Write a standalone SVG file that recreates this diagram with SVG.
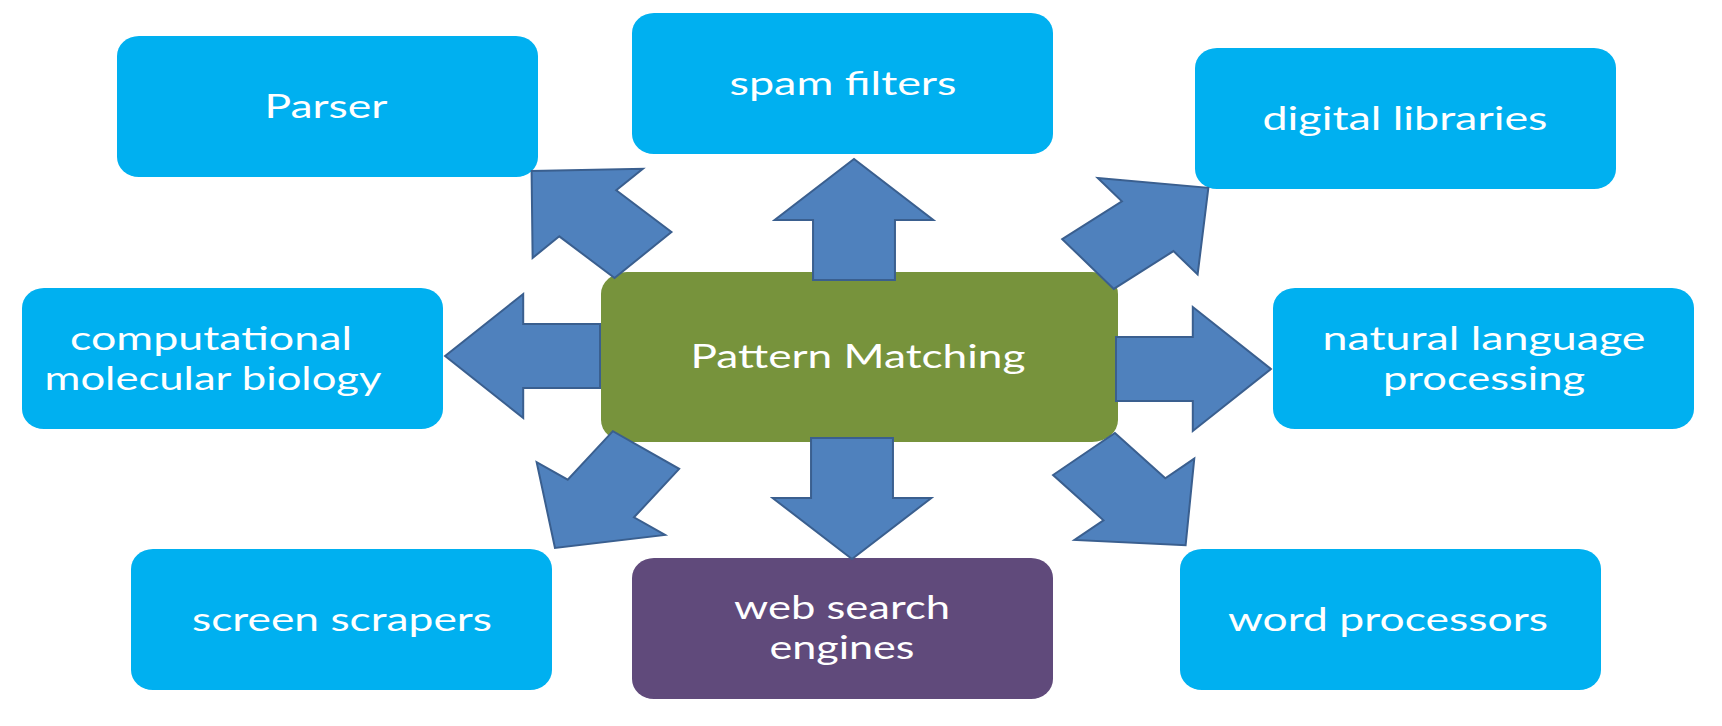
<svg xmlns="http://www.w3.org/2000/svg" xmlns:xlink="http://www.w3.org/1999/xlink" width="1722" height="726" viewBox="0 0 1722 726">
  <style>
    .box { fill: #00B0F0; }
    .core { fill: #77933C; }
    .hl { fill: #604A7B; }
    .lbl { font-family: Lato, "Open Sans", "Liberation Sans", sans-serif; font-size: 33px; fill: #FFFFFF; text-anchor: middle; }
    .arr { fill: #4F81BD; stroke: #3A5F8F; stroke-width: 2; stroke-linejoin: miter; }
  </style>
  <defs>
    <polygon id="arrow" class="arr" vector-effect="non-scaling-stroke" points="0,-32 60,-32 60,-62 121,0 60,62 60,32 0,32"/>
  </defs>
  <rect width="1722" height="726" fill="#FFFFFF"/>

  <g id="node-parser">
    <rect class="box" x="117" y="36" width="421" height="141" rx="22" ry="20"/>
    <text class="lbl" x="326" y="118" textLength="123" lengthAdjust="spacingAndGlyphs">Parser</text>
  </g>
  <g id="node-spam">
    <rect class="box" x="632" y="13" width="421" height="141" rx="22" ry="20"/>
    <text class="lbl" x="843" y="95" textLength="227" lengthAdjust="spacingAndGlyphs">spam filters</text>
  </g>
  <g id="node-digital">
    <rect class="box" x="1195" y="48" width="421" height="141" rx="22" ry="20"/>
    <text class="lbl" x="1405" y="130" textLength="285" lengthAdjust="spacingAndGlyphs">digital libraries</text>
  </g>
  <g id="node-compbio">
    <rect class="box" x="22" y="288" width="421" height="141" rx="22" ry="20"/>
    <text class="lbl" x="211" y="350" textLength="282" lengthAdjust="spacingAndGlyphs">computational</text>
    <text class="lbl" x="213" y="390" textLength="337" lengthAdjust="spacingAndGlyphs">molecular biology</text>
  </g>
  <g id="node-nlp">
    <rect class="box" x="1273" y="288" width="421" height="141" rx="22" ry="20"/>
    <text class="lbl" x="1484" y="350" textLength="323" lengthAdjust="spacingAndGlyphs">natural language</text>
    <text class="lbl" x="1484" y="390" textLength="202" lengthAdjust="spacingAndGlyphs">processing</text>
  </g>
  <g id="node-screen">
    <rect class="box" x="131" y="549" width="421" height="141" rx="22" ry="20"/>
    <text class="lbl" x="342" y="631" textLength="300" lengthAdjust="spacingAndGlyphs">screen scrapers</text>
  </g>
  <g id="node-web">
    <rect class="hl" x="632" y="558" width="421" height="141" rx="22" ry="20"/>
    <text class="lbl" x="842" y="619" textLength="216" lengthAdjust="spacingAndGlyphs">web search</text>
    <text class="lbl" x="842" y="659" textLength="145" lengthAdjust="spacingAndGlyphs">engines</text>
  </g>
  <g id="node-word">
    <rect class="box" x="1180" y="549" width="421" height="141" rx="22" ry="20"/>
    <text class="lbl" x="1388" y="631" textLength="320" lengthAdjust="spacingAndGlyphs">word processors</text>
  </g>
  <g id="node-pattern">
    <rect class="core" x="601" y="272" width="517" height="170" rx="26" ry="22"/>
    <text class="lbl" x="858" y="368" textLength="335" lengthAdjust="spacingAndGlyphs">Pattern Matching</text>
  </g>

  <g id="connectors">
    <use xlink:href="#arrow" transform="translate(854,280) scale(1.28,1) rotate(-90)"/>
    <use xlink:href="#arrow" transform="translate(852,438) scale(1.28,1) rotate(90)"/>
    <use xlink:href="#arrow" transform="translate(600,356) scale(1.28,1) rotate(180)"/>
    <use xlink:href="#arrow" transform="translate(1116,369) scale(1.28,1)"/>
    <use xlink:href="#arrow" transform="translate(643,255) scale(1.28,1) rotate(-136)"/>
    <use xlink:href="#arrow" transform="translate(1088,264) scale(1.28,1) rotate(-39)"/>
    <use xlink:href="#arrow" transform="translate(646,450) scale(1.28,1) rotate(126)"/>
    <use xlink:href="#arrow" transform="translate(1084,454) scale(1.28,1) rotate(49)"/>
  </g>
</svg>
